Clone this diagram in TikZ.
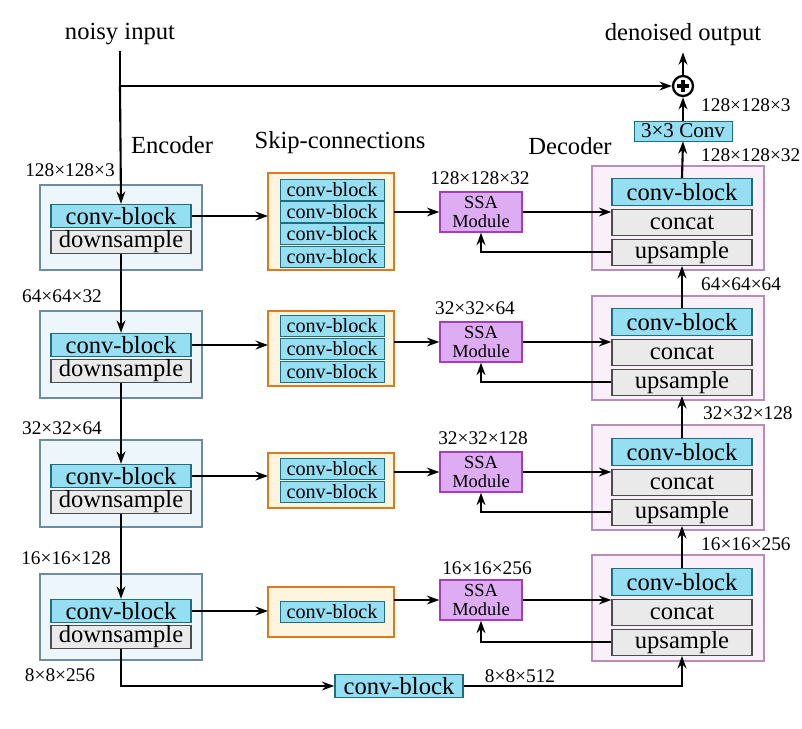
\documentclass[tikz,border=0pt]{standalone}
\usepackage{fontspec}
\setmainfont{Liberation Serif}
\usetikzlibrary{positioning,arrows.meta}
\definecolor{cyanfill}{RGB}{150,222,242}
\definecolor{cyanline}{RGB}{30,110,130}
\definecolor{encfill}{RGB}{236,246,251}
\definecolor{encline}{RGB}{110,140,160}
\definecolor{orline}{RGB}{222,122,30}
\definecolor{orfill}{RGB}{255,245,222}
\definecolor{ssafill}{RGB}{222,172,242}
\definecolor{ssaline}{RGB}{165,60,190}
\definecolor{decfill}{RGB}{250,240,250}
\definecolor{decline}{RGB}{185,140,185}
\definecolor{grayfill}{RGB}{234,234,234}
\tikzset{
  big/.style={font=\fontsize{14}{16}\selectfont},
  dim/.style={font=\fontsize{11}{13}\selectfont},
  conv/.style={draw=cyanline, thick, fill=cyanfill, big, inner sep=0pt, minimum width=140*0.02cm, minimum height=23*0.02cm},
  down/.style={draw=black!70, thick, fill=grayfill, big, inner sep=0pt, minimum width=140*0.02cm, minimum height=23*0.02cm},
  dconv/.style={conv, minimum height=27*0.02cm},
  dgray/.style={down, minimum height=26*0.02cm},
  sconv/.style={draw=cyanline, fill=cyanfill, font=\fontsize{11.5}{13}\selectfont, inner sep=0pt, minimum width=104*0.02cm, minimum height=21*0.02cm},
  enc/.style={draw=encline, thick, fill=encfill},
  skip/.style={draw=orline, line width=1.6pt, fill=orfill},
  dec/.style={draw=decline, thick, fill=decfill},
  ssa/.style={draw=ssaline, thick, fill=ssafill, font=\fontsize{10.5}{11}\selectfont, align=center, inner sep=0pt, minimum width=82*0.02cm, minimum height=40*0.02cm},
  arr/.style={-{Stealth[length=7pt,width=5pt]}, line width=1.2pt},
  ln/.style={line width=1.2pt}
}
\begin{document}
\begin{tikzpicture}[x=0.02cm, y=-0.02cm]
  \useasboundingbox (0,0) rectangle (802,728);
  % titles
  \node[big] (in) at (120,34) {noisy input};
  \node[big] (out) at (683,35) {denoised output};
  \node[big] at (172,145) {Encoder};
  \node[big] at (340,143) {Skip-connections};
  \node[big] at (570,146) {Decoder};

  % encoder
  \foreach \i/\t/\b/\c in {1/185/270/216, 2/311/398/345, 3/440/527/476, 4/574/660/611} {
    \draw[enc] (40,\t) rectangle (202,\b);
    \node[conv] (ec\i) at (121,\c) {conv-block};
    \node[down, below=1.5*0.02cm of ec\i] (ed\i) {downsample};
  }
  \node[dim] at (70,170) {128×128×3};
  \node[dim] at (62,296) {64×64×32};
  \node[dim] at (62,428) {32×32×64};
  \node[dim] at (66,558) {16×16×128};
  \node[dim] at (60,675) {8×8×256};

  % skip-connections
  \draw[skip] (268,173) rectangle (394,270);
  \draw[skip] (268,311) rectangle (394,386);
  \draw[skip] (268,453) rectangle (394,508);
  \draw[skip] (268,587) rectangle (394,637);
  \foreach \n/\y in {a/190, b/212, c/234, d/257, e/326, f/349, g/372, h/469, i/492}
    \node[sconv] (s\n) at (332,\y) {conv-block};
  \node[sconv] (sj) at (332,612) {conv-block};
  \coordinate (skin1) at (268,221);
  \coordinate (skin2) at (268,349);
  \coordinate (skin3) at (268,480);
  \coordinate (skin4) at (268,612);
  \coordinate (skout1) at (394,221);
  \coordinate (skout2) at (394,349);
  \coordinate (skout3) at (394,480);
  \coordinate (skout4) at (394,612);

  % SSA modules
  \node[ssa] (ssa1) at (481,212) {SSA\\Module};
  \node[ssa] (ssa2) at (481,342) {SSA\\Module};
  \node[ssa] (ssa3) at (481,472) {SSA\\Module};
  \node[ssa] (ssa4) at (481,600) {SSA\\Module};
  \node[dim] at (480,178) {128×128×32};
  \node[dim] at (475,308) {32×32×64};
  \node[dim] at (483,438) {32×32×128};
  \node[dim] at (487,568) {16×16×256};

  % decoder
  \foreach \i/\t/\b/\c in {1/166/270/192, 2/296/400/322, 3/425/530/452, 4/555/661/582} {
    \draw[dec] (592,\t) rectangle (764,\b);
    \node[dconv] (dc\i) at (682,\c) {conv-block};
    \node[dgray, below=2.5*0.02cm of dc\i] (dk\i) {concat};
    \node[dgray, below=2.5*0.02cm of dk\i] (du\i) {upsample};
  }
  \node[dim, anchor=west] at (695,155) {128×128×32};
  \node[dim, anchor=west] at (695,284) {64×64×64};
  \node[dim, anchor=west] at (697,413) {32×32×128};
  \node[dim, anchor=west] at (695,544) {16×16×256};

  % output head
  \node[draw=cyanline, fill=cyanfill, font=\fontsize{12}{14}\selectfont, inner sep=0pt, minimum width=98*0.02cm, minimum height=20*0.02cm] (head) at (683,131) {3×3 Conv};
  \node[dim, anchor=west] at (695,105) {128×128×3};
  \node[draw, circle, line width=1.3pt, inner sep=0pt, minimum size=20*0.02cm] (plus) at (683,86) {};
  \draw[line width=2pt] (plus.center) ++(-6,0) -- ++(12,0);
  \draw[line width=2pt] (plus.center) ++(0,-6) -- ++(0,12);

  % bottleneck
  \node[conv, minimum width=128*0.02cm] (mid) at (399,686) {conv-block};
  \node[dim] at (520,676) {8×8×512};

  % connections
  \coordinate (split) at (120,86);
  \draw[ln] (in.south) -- (split);
  \draw[arr] (split) -- (ec1.north);
  \draw[arr] (split) -- (plus.west);
  \draw[arr] (plus.north) -- (out.south);
  \draw[arr] (head.north) -- (plus.south);
  \draw[arr] (dc1.north) -- (head.south);
  \foreach \i/\j in {1/2, 2/3, 3/4} {
    \draw[arr] (ed\i.south) -- (ec\j.north);
    \draw[arr] (dc\j.north) -- (du\i.south);
  }
  \foreach \i in {1,2,3,4} {
    \draw[arr] (ec\i.east) -- (ec\i.east -| skin\i);
    \draw[arr] (skout\i |- ssa\i.west) -- (ssa\i.west);
    \draw[arr] (ssa\i.east) -- (ssa\i.east -| dk\i.west);
    \draw[arr] (du\i.west) -| (ssa\i.south);
  }
  \draw[arr] (ed4.south) |- (mid.west);
  \draw[arr] (mid.east) -| (du4.south);
\end{tikzpicture}
\end{document}
